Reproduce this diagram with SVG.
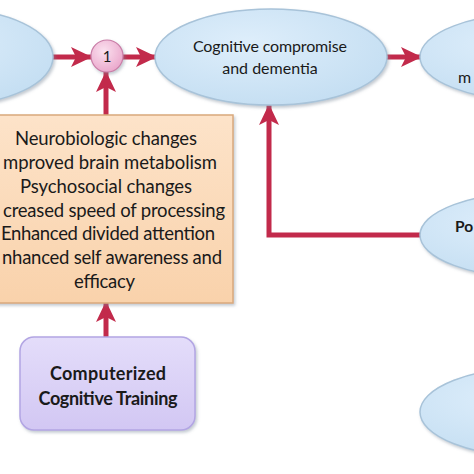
<svg xmlns="http://www.w3.org/2000/svg" width="474" height="474" viewBox="0 0 474 474">
<style>
.ell{fill:url(#gBlue);stroke:#a8c3d9;stroke-width:1.5;filter:url(#sh)}
.conn{fill:none;stroke:#c22a4b;stroke-width:5}
.t{font-family:Lato,"Open Sans","DejaVu Sans",sans-serif;fill:#1a1a1a}
.box{font-size:18.5px}
</style>
<defs>
<radialGradient id="gBlue" cx="40%" cy="35%" r="70%">
<stop offset="0" stop-color="#deeefb"/>
<stop offset="1" stop-color="#c4def2"/>
</radialGradient>
<radialGradient id="gPink" cx="40%" cy="35%" r="70%">
<stop offset="0" stop-color="#fbe1ef"/>
<stop offset="1" stop-color="#eaa6cb"/>
</radialGradient>
<linearGradient id="gOrange" x1="0" y1="0" x2="0" y2="1">
<stop offset="0" stop-color="#fde3c9"/>
<stop offset="1" stop-color="#f9d2ab"/>
</linearGradient>
<linearGradient id="gPurple" x1="0" y1="0" x2="0" y2="1">
<stop offset="0" stop-color="#e4ddfa"/>
<stop offset="1" stop-color="#d2c7f3"/>
</linearGradient>
<filter id="sh" x="-20%" y="-20%" width="140%" height="140%">
<feDropShadow dx="1.5" dy="2" stdDeviation="1.5" flood-color="#7a8a99" flood-opacity="0.45"/>
</filter>
<marker id="ah" markerUnits="userSpaceOnUse" markerWidth="22" markerHeight="22" viewBox="0 0 22 22" refX="20" refY="11" orient="auto">
<path d="M0,1 L21,11 L0,21 L5,11 Z" fill="#c22a4b"/>
</marker>
</defs>

<g id="connectors">
<line class="conn" x1="53" y1="57" x2="91" y2="57" marker-end="url(#ah)"/>
<line class="conn" x1="123" y1="57" x2="156" y2="57" marker-end="url(#ah)"/>
<line class="conn" x1="386" y1="57" x2="421" y2="57" marker-end="url(#ah)"/>
<line class="conn" x1="106" y1="116" x2="106" y2="72" marker-end="url(#ah)"/>
<line class="conn" x1="106" y1="337" x2="106" y2="302" marker-end="url(#ah)"/>
<polyline class="conn" points="421,235 269,235 269,105" marker-end="url(#ah)"/>
</g>

<g id="node-left">
<ellipse class="ell" cx="-50" cy="57" rx="103" ry="48"/>
</g>

<g id="node-1">
<circle cx="107" cy="56" r="16" fill="url(#gPink)" stroke="#c97ca6" stroke-width="1.2" filter="url(#sh)"/>
<text class="t" x="107" y="61.5" font-size="15" text-anchor="middle">1</text>
</g>

<g id="node-cognitive">
<ellipse class="ell" cx="271" cy="57" rx="116" ry="48"/>
<text class="t" x="270" y="52" font-size="16" text-anchor="middle" textLength="154">Cognitive compromise</text>
<text class="t" x="270" y="74" font-size="16" text-anchor="middle">and dementia</text>
</g>

<g id="node-top-right">
<ellipse class="ell" cx="536" cy="57" rx="116" ry="44"/>
<text class="t" x="458" y="83" font-size="16">m</text>
</g>

<g id="node-po">
<ellipse class="ell" cx="536" cy="235" rx="116" ry="43"/>
<text class="t" x="455" y="232" font-size="15.5" font-weight="bold">Po</text>
</g>

<g id="node-bottom-right">
<ellipse class="ell" cx="536" cy="412" rx="116" ry="45"/>
</g>

<g id="node-mechanisms">
<rect x="-22" y="115" width="255" height="188" fill="url(#gOrange)" stroke="#d9a97c" stroke-width="1.5" filter="url(#sh)"/>
<text class="t box" x="15" y="145" textLength="182">Neurobiologic changes</text>
<text class="t box" x="3" y="169" textLength="214">mproved brain metabolism</text>
<text class="t box" x="20" y="193" textLength="172">Psychosocial changes</text>
<text class="t box" x="3" y="217" textLength="222">creased speed of processing</text>
<text class="t box" x="1" y="240" textLength="214">Enhanced divided attention</text>
<text class="t box" x="2" y="264" textLength="220">nhanced self awareness and</text>
<text class="t box" x="74" y="288" textLength="61">efficacy</text>
</g>

<g id="node-training">
<rect x="20" y="337" width="175" height="93" rx="14" fill="url(#gPurple)" stroke="#b2a5e3" stroke-width="1.5" filter="url(#sh)"/>
<text class="t" x="108" y="380" font-size="18" font-weight="bold" text-anchor="middle" textLength="116">Computerized</text>
<text class="t" x="108" y="405" font-size="18" font-weight="bold" text-anchor="middle" textLength="139">Cognitive Training</text>
</g>
</svg>
